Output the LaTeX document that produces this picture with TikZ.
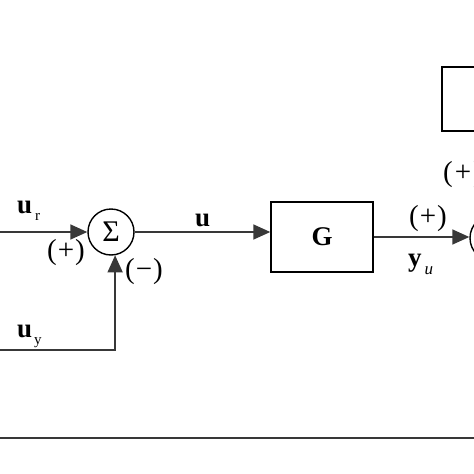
\documentclass[tikz,border=0pt]{standalone}
\usepackage{fontspec}
\setmainfont{Liberation Serif}
\usetikzlibrary{positioning,arrows.meta}
\definecolor{linegray}{HTML}{383838}

\begin{document}
\begin{tikzpicture}[x=1pt,y=-1pt,>={Triangle[length=17pt,width=15pt]},
  font=\fontsize{27}{27}\selectfont,
  block/.style={draw=black,line width=1.4pt,minimum width=102pt,minimum height=70pt,inner sep=0pt},
  sumnode/.style={circle,draw=black,line width=1.4pt,minimum size=46pt,inner sep=0pt},
  sig/.style={draw=linegray,line width=1.6pt},
  lab/.style={inner sep=0pt,anchor=base west},
  sign/.style={inner sep=0pt,font=\fontsize{29}{29}\selectfont}]
  \useasboundingbox (0,0) rectangle (474,474);
  \clip (0,0) rectangle (474,474);

  \node[sumnode] (sum)   at (111,232) {\fontsize{30}{30}\selectfont Σ};
  \node[block]   (G)     at (322,237) {\textbf{G}};
  \node[sumnode] (sum_2) at (493,238) {};
  \node[block,minimum height=64pt] (H) at (493,99) {};

  \coordinate (u_r)  at (0,232);
  \coordinate (u_y)  at (0,350);
  \coordinate (fb_l) at (0,438);
  \coordinate (fb_r) at (474,438);

  \draw[sig,->] (u_r) -- (sum);
  \draw[sig,->] (u_y) -| (sum.-80);
  \draw[sig,->] (sum) -- (sum -| G.west);
  \draw[sig,->] (G) -- (G -| sum_2.west);
  \draw[sig] (fb_l) -- (fb_r);

  \node[lab] at (17,213) {\textbf{u}\hspace{3pt}\raisebox{-7pt}{\fontsize{15}{15}\selectfont r}};
  \node[lab] at (17,337) {\textbf{u}\hspace{2pt}\raisebox{-7pt}{\fontsize{15}{15}\selectfont y}};
  \node[lab] at (195,226) {\textbf{u}};
  \node[lab] at (408,266) {\textbf{y}\hspace{3pt}\raisebox{-8pt}{\fontsize{17}{17}\selectfont\itshape u}};
  \node[sign] at (66,253)  {(\kern1pt+\kern1pt)};
  \node[sign] at (144,272) {(\kern1pt−\kern1pt)};
  \node[sign] at (428,219) {(\kern1pt+\kern1pt)};
  \node[sign,anchor=west] at (443,175) {(\kern2pt+\kern2pt)};
\end{tikzpicture}
\end{document}
